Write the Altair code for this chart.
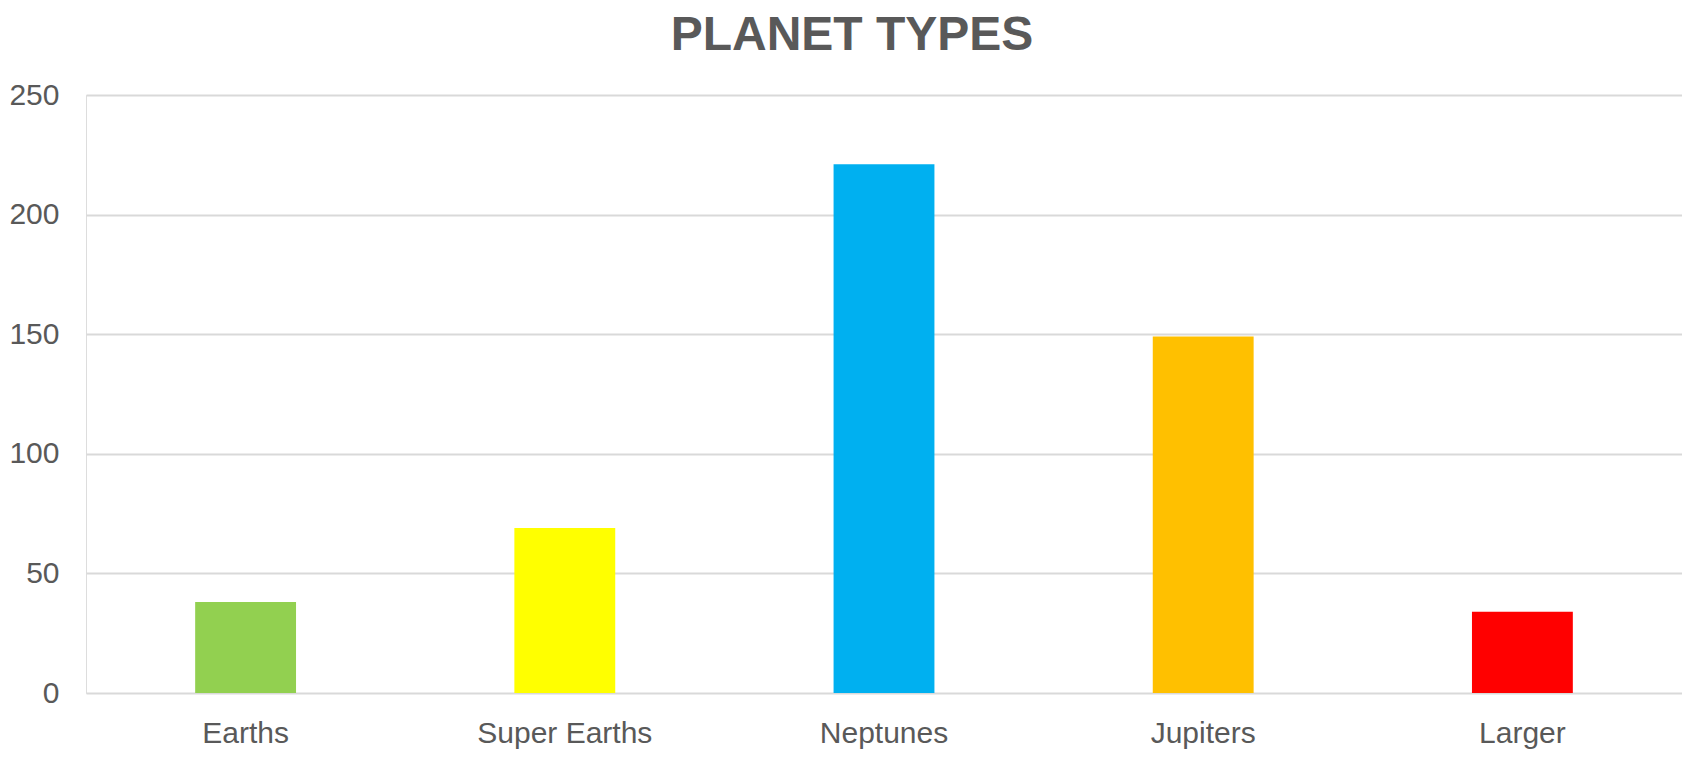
import altair as alt
import pandas as pd

categories = ["Earths", "Super Earths", "Neptunes", "Jupiters", "Larger"]
counts = [38, 69, 221, 149, 34]
colors = ["#92D050", "#FFFF00", "#00B0F0", "#FFC000", "#FF0000"]
y_ticks = [0, 50, 100, 150, 200, 250]

df = pd.DataFrame({"type": categories, "count": counts})

chart = (
    alt.Chart(df)
    .mark_bar()
    .encode(
        x=alt.X(
            "type:N",
            sort=categories,
            title=None,
            scale=alt.Scale(paddingInner=0.684, paddingOuter=0.342),
            axis=alt.Axis(
                labelAngle=0,
                domain=False,
                ticks=False,
                grid=False,
                labelFont="Liberation Sans",
                labelFontSize=30,
                labelColor="#595959",
                labelPadding=25,
            ),
        ),
        y=alt.Y(
            "count:Q",
            title=None,
            scale=alt.Scale(domain=[0, 250], nice=False),
            axis=alt.Axis(
                values=y_ticks,
                domain=False,
                ticks=False,
                grid=True,
                gridColor="#D9D9D9",
                gridWidth=2,
                labelFont="Liberation Sans",
                labelFontSize=30,
                labelColor="#595959",
                labelPadding=27,
            ),
        ),
        color=alt.Color(
            "type:N",
            scale=alt.Scale(domain=categories, range=colors),
            legend=None,
        ),
    )
    .properties(
        width=1596,
        height=598,
        title=alt.TitleParams(
            "PLANET TYPES",
            font="Liberation Sans",
            fontSize=48,
            fontWeight="bold",
            color="#595959",
            anchor="middle",
            frame="group",
            dx=-32,
            dy=-16,
        ),
        autosize=alt.AutoSizeParams(type="none"),
        padding={"left": 78, "top": 87, "right": 0, "bottom": 59},
    )
    .configure_view(strokeWidth=0)
    .configure(background="white")
)

chart.save("out.html", embed_options={"renderer": "svg", "actions": False})
